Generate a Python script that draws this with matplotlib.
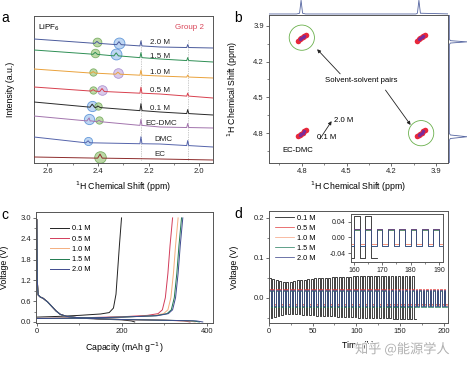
import numpy as np
import matplotlib
matplotlib.use('Agg')
import matplotlib.pyplot as plt
import matplotlib.patheffects as pe
from matplotlib.ticker import MultipleLocator

plt.rcParams['font.family'] = ['Liberation Sans', 'DejaVu Sans']
plt.rcParams['font.size'] = 5
plt.rcParams['axes.linewidth'] = 0.7
plt.rcParams['axes.edgecolor'] = '#555555'
for ax_ in ('xtick', 'ytick'):
    plt.rcParams[ax_ + '.major.size'] = 2.2
    plt.rcParams[ax_ + '.minor.size'] = 1.2
    plt.rcParams[ax_ + '.major.width'] = 0.6
    plt.rcParams[ax_ + '.minor.width'] = 0.5
    plt.rcParams[ax_ + '.major.pad'] = 1.5
    plt.rcParams[ax_ + '.color'] = '#555555'
    plt.rcParams[ax_ + '.labelcolor'] = '#222222'
    plt.rcParams[ax_ + '.labelsize'] = 5.5

W, H = 467, 370
LAB = 6.3

# ---------------- panel a data ----------------
a_names = ['2.0 M', '1.5 M', '1.0 M', '0.5 M', '0.1 M', 'EC-DMC', 'DMC', 'EC']
a_colors = ['#4b5b9c', '#2f8f55', '#eaa23c', '#d8404e', '#2a2a2a', '#a274ad', '#5564ab', '#8e2c2c']
a_base_ppm = [2.653, 2.431, 2.155, 1.945]
a_base = [[124, 120, 116, 115], [113, 109, 104, 101], [94, 90, 87, 85], [76, 72, 69, 65],
          [61, 56, 51, 48], [47, 42, 36, 35], [26, 20, 19, 16], [6, 5, 4, 3]]
a_sharp_ppm = [2.23, 2.045]
a_sharp_h = [[5, 3], [5, 3], [5, 2], [6, 3], [7, 4], [6, 4], [7, 5], [0, 0]]
a_circ_pos = [[2.404, 2.317], [2.411, 2.328], [2.419, 2.321], [2.419, 2.384],
              [2.423, 2.400], [2.435, 2.396], [2.439], [2.392]]
a_circ_kind = [['g', 'b'], ['g', 'b'], ['g', 'p'], ['g', 'p'], ['b', 'g'], ['b', 'g'], ['b'], ['g']]
a_circ_h = [[2, 3], [2, 3], [1.5, 2], [1.5, 3], [3, 1.5], [3, 1.5], [2], [4]]
a_circ_size = [[40, 62], [38, 62], [28, 48], [28, 48], [55, 28], [55, 28], [35], [70]]
a_label_ppm = [2.155, 2.155, 2.155, 2.155, 2.155, 2.15, 2.14, 2.155]
a_label_y = [120, 106, 91, 73, 55, 39, 23, 8]

# ---------------- panel b data ----------------
b_shift_a = [4.825, 4.815, 4.805, 4.795, 4.785, 4.775]   # EC-DMC, 0.1 ... 2.0 M
b_shift_b = [4.025, 4.015, 4.005, 3.995, 3.985, 3.975]
b_proj_x = [5.05, 4.835, 4.815, 4.805, 4.795, 4.775, 4.05, 4.035, 4.025, 4.015, 4.005, 3.80]
b_proj_top = [0.07, 0.07, 0.12, 1.0, 0.12, 0.07, 0.07, 0.07, 0.12, 1.0, 0.12, 0.07]
b_proj_y = [3.80, 4.01, 4.025, 4.035, 4.045, 4.06, 4.80, 4.815, 4.83, 4.845, 4.86, 5.05]
b_proj_right = [0.07, 0.07, 0.12, 1.0, 0.12, 0.07, 0.07, 0.12, 1.0, 0.12, 0.07, 0.07]

# ---------------- panel c data ----------------
c_names = ['0.1 M', '0.5 M', '1.0 M', '1.5 M', '2.0 M']
c_colors = ['#222222', '#d23c5a', '#f4ae7e', '#1f7a4f', '#3e4a8e']
c_dis_x = [[0, 1, 3, 8, 15, 25, 35, 45, 55, 70, 100, 150, 200, 222, 230],
           [0, 1, 3, 8, 15, 25, 35, 45, 55, 70, 100, 150, 200, 300, 345, 360],
           [0, 1, 3, 8, 15, 25, 35, 45, 55, 70, 100, 150, 200, 300, 357, 372],
           [0, 1, 3, 8, 15, 25, 35, 45, 55, 70, 100, 150, 200, 300, 367, 382],
           [0, 1, 3, 8, 15, 25, 35, 45, 55, 70, 100, 150, 200, 300, 375, 390]]
c_dis_y = [[2.95, 1.2, 0.78, 0.72, 0.68, 0.58, 0.45, 0.32, 0.22, 0.16, 0.11, 0.08, 0.06, 0.03, 0.0],
           [2.95, 1.2, 0.78, 0.72, 0.68, 0.58, 0.45, 0.32, 0.22, 0.16, 0.12, 0.09, 0.07, 0.05, 0.03, 0.0],
           [2.95, 1.2, 0.78, 0.72, 0.68, 0.58, 0.45, 0.32, 0.22, 0.16, 0.12, 0.09, 0.07, 0.05, 0.03, 0.0],
           [2.95, 1.2, 0.78, 0.72, 0.68, 0.58, 0.45, 0.32, 0.22, 0.16, 0.12, 0.09, 0.07, 0.05, 0.03, 0.0],
           [2.95, 1.2, 0.78, 0.72, 0.68, 0.58, 0.45, 0.32, 0.22, 0.16, 0.12, 0.09, 0.07, 0.05, 0.03, 0.0]]
c_chg_x = [[0, 50, 100, 150, 170, 180, 186, 190, 194, 199],
           [0, 100, 200, 260, 285, 295, 302, 308, 313, 319],
           [0, 100, 200, 272, 298, 308, 315, 321, 326, 332],
           [0, 100, 200, 280, 306, 316, 323, 329, 334, 340],
           [0, 100, 200, 283, 309, 319, 326, 332, 337, 343]]
c_chg_y = [[0.14, 0.16, 0.19, 0.23, 0.27, 0.40, 0.80, 1.50, 2.20, 3.00],
           [0.10, 0.12, 0.15, 0.19, 0.24, 0.35, 0.70, 1.40, 2.20, 3.00],
           [0.10, 0.11, 0.14, 0.18, 0.24, 0.35, 0.70, 1.40, 2.20, 3.00],
           [0.10, 0.11, 0.14, 0.18, 0.24, 0.35, 0.70, 1.40, 2.20, 3.00],
           [0.10, 0.11, 0.14, 0.18, 0.24, 0.35, 0.70, 1.40, 2.20, 3.00]]

# ---------------- panel d data ----------------
d_names = ['0.1 M', '0.5 M', '1.0 M', '1.5 M', '2.0 M']
d_colors = ['#222222', '#e03a3a', '#f6a07e', '#1f7a5a', '#323c86']
d_period = 4.0
d_black_hi = [0.050, 0.048, 0.045, 0.042, 0.040, 0.040, 0.041, 0.042, 0.044, 0.045,
              0.046, 0.047, 0.048, 0.049, 0.050, 0.050, 0.051, 0.051, 0.052, 0.052,
              0.052, 0.053, 0.053, 0.053, 0.054, 0.054, 0.054, 0.054, 0.055, 0.055,
              0.055, 0.055, 0.055, 0.055, 0.055, 0.055, 0.055, 0.055, 0.054, 0.054,
              0.054, 0.054]
d_black_lo = [-0.050, -0.047, -0.044, -0.042, -0.041, -0.040, -0.040, -0.040, -0.041, -0.042,
              -0.042, -0.043, -0.043, -0.044, -0.044, -0.045, -0.045, -0.046, -0.046, -0.047,
              -0.047, -0.047, -0.048, -0.048, -0.048, -0.049, -0.049, -0.049, -0.050, -0.050,
              -0.050, -0.050, -0.051, -0.051, -0.051, -0.052, -0.052, -0.052, -0.053, -0.053,
              -0.053, -0.053]
d_other_hi = [0.022, 0.020, 0.018, 0.021]
d_other_lo = [-0.016, -0.018, -0.022, -0.021]
d_other_cycles = 51


def fpos(l, t, r, b):
    return [l / W, 1 - b / H, (r - l) / W, (b - t) / H]


def spectrum(bx, by, peaks):
    xs, ys = list(bx), list(by)
    for pos, h, w in peaks:
        b = np.interp(pos, bx[::-1], by[::-1])
        xs += [pos + w, pos, pos - w]
        ys += [b, b + h, b]
    order = np.argsort(xs)[::-1]
    return np.array(xs)[order], np.array(ys)[order]


def square(hi, lo, period):
    xs, ys = [], []
    for i, (h, l) in enumerate(zip(hi, lo)):
        t0 = i * period
        xs += [t0, t0 + period / 2, t0 + period / 2, t0 + period]
        ys += [h, h, l, l]
    return xs, ys


fig = plt.figure(figsize=(W / 100, H / 100), dpi=100)

# ================= a =================
ax = fig.add_axes(fpos(34, 16, 213, 163))
circ_face = {'g': '#a6cb88', 'b': '#a9c9ef', 'p': '#cdb9e4'}
circ_edge = {'g': '#5f9e46', 'b': '#3d7fd0', 'p': '#9a7cc8'}
for ppm in a_sharp_ppm:
    ax.plot([ppm, ppm], [3, 124], ls=(0, (1, 1.5)), color='#9a9a9a', lw=0.5, zorder=1)
for i in range(len(a_names)):
    bx = np.array(a_base_ppm)
    by = np.array(a_base[i], dtype=float)
    peaks = [(p, h, 0.004) for p, h in zip(a_sharp_ppm, a_sharp_h[i]) if h > 0]
    peaks += [(p, h, 0.009) for p, h in zip(a_circ_pos[i], a_circ_h[i])]
    for p, k, s in zip(a_circ_pos[i], a_circ_kind[i], a_circ_size[i]):
        yb = np.interp(p, bx[::-1], by[::-1])
        ax.scatter([p], [yb + 1.5], s=s, facecolor=circ_face[k], edgecolor=circ_edge[k],
                   linewidth=0.6, alpha=0.75, zorder=2)
    x, y = spectrum(bx, by, peaks)
    ax.plot(x, y, color=a_colors[i], lw=0.7, zorder=3)
    ax.text(a_label_ppm[i], a_label_y[i], a_names[i], ha='center', va='center', fontsize=5.8,
            color='#222222', zorder=4)
ax.text(0.02, 0.955, 'LiPF$_6$', transform=ax.transAxes, fontsize=5.8, va='top')
ax.text(0.95, 0.945, 'Group 2', transform=ax.transAxes, fontsize=5.8, va='top', ha='right',
        color='#d9475a')
ax.set_xlim(2.653, 1.945)
ax.set_ylim(0, 147)
ax.set_xticks([2.6, 2.4, 2.2, 2.0])
ax.xaxis.set_minor_locator(MultipleLocator(0.1))
ax.set_yticks([])
ax.set_xlabel('$^1$H Chemical Shift (ppm)', fontsize=LAB, labelpad=3)
ax.set_ylabel('Intensity (a.u.)', fontsize=LAB)
ax.yaxis.set_label_coords(-0.105, 0.5)

# ================= b =================
ax = fig.add_axes(fpos(269, 15, 448, 163))
xlim_b, ylim_b = (5.02, 3.82), (5.05, 3.81)
pairs = [(b_shift_a, b_shift_b), (b_shift_b, b_shift_b), (b_shift_a, b_shift_a), (b_shift_b, b_shift_a)]
for xs, ys in pairs:
    ax.scatter(xs, ys, s=16, color='#e8283a', linewidths=0, zorder=3)
for xs, ys in pairs:
    ax.scatter(xs[1:-1], ys[1:-1], s=6, color='#7a2a9a', linewidths=0, zorder=4)
ax.scatter([4.80, 4.00], [4.00, 4.80], s=330, facecolor='none', edgecolor='#6ab04c', lw=0.6, zorder=2)
ax.text(4.40, 4.36, 'Solvent-solvent pairs', ha='center', va='center', fontsize=5.6,
        bbox=dict(fc='white', ec='none', pad=0.5), zorder=6)
ax.annotate('', xy=(4.71, 4.08), xytext=(4.53, 4.32),
            arrowprops=dict(arrowstyle='-|>', color='#222222', lw=0.6, mutation_scale=5), zorder=5)
ax.annotate('', xy=(4.06, 4.75), xytext=(4.25, 4.42),
            arrowprops=dict(arrowstyle='-|>', color='#222222', lw=0.6, mutation_scale=5), zorder=5)
ax.annotate('', xy=(4.59, 4.68), xytext=(4.69, 4.87),
            arrowprops=dict(arrowstyle='-|>', color='#222222', lw=0.6, mutation_scale=5))
ax.text(4.585, 4.69, '2.0 M', fontsize=5.6, va='center', ha='left')
ax.text(4.70, 4.84, '0.1 M', fontsize=5.6, va='center', ha='left')
ax.text(4.93, 4.945, 'EC-DMC', fontsize=5.6, va='center', ha='left')
ax.set_xlim(*xlim_b)
ax.set_ylim(*ylim_b)
ax.set_xticks([4.8, 4.5, 4.2, 3.9])
ax.set_yticks([3.9, 4.2, 4.5, 4.8])
ax.xaxis.set_minor_locator(MultipleLocator(0.15))
ax.yaxis.set_minor_locator(MultipleLocator(0.15))
ax.set_xlabel('$^1$H Chemical Shift (ppm)', fontsize=LAB, labelpad=3)
ax.set_ylabel('$^1$H Chemical Shift (ppm)', fontsize=LAB)
ax.yaxis.set_label_coords(-0.16, 0.5)

axt = fig.add_axes(fpos(269, 0, 448, 15))
axt.plot(b_proj_x, b_proj_top, color='#5565a0', lw=0.6)
axt.set_xlim(*xlim_b)
axt.set_ylim(0, 1.02)
axt.axis('off')
axr = fig.add_axes(fpos(448, 15, 467, 163))
axr.plot(b_proj_right, b_proj_y, color='#5565a0', lw=0.6)
axr.set_ylim(*ylim_b)
axr.set_xlim(0, 1.0)
axr.axis('off')

# ================= c =================
ax = fig.add_axes(fpos(36, 212, 213, 323))
for i in range(len(c_names)):
    ax.plot(c_dis_x[i], c_dis_y[i], color=c_colors[i], lw=0.7, label=c_names[i])
    ax.plot(c_chg_x[i], c_chg_y[i], color=c_colors[i], lw=0.7)
ax.set_xlim(-2, 414)
ax.set_ylim(-0.03, 3.17)
ax.set_xticks([0, 200, 400])
ax.xaxis.set_minor_locator(MultipleLocator(100))
ax.set_yticks([0.0, 0.6, 1.2, 1.8, 2.4, 3.0])
ax.yaxis.set_minor_locator(MultipleLocator(0.3))
ax.set_xlabel('Capacity (mAh g$^{-1}$)', fontsize=LAB, labelpad=4)
ax.set_ylabel('Voltage (V)', fontsize=LAB)
ax.yaxis.set_label_coords(-0.155, 0.5)
ax.legend(loc='upper left', bbox_to_anchor=(0.08, 0.88), frameon=False, fontsize=5.3,
          handlelength=2.6, handletextpad=0.4, labelspacing=0.42, borderpad=0, borderaxespad=0)

# ================= d =================
ax = fig.add_axes(fpos(269, 211, 448, 323))
axi = fig.add_axes(fpos(351, 214, 443, 262))
bxs, bys = square(d_black_hi, d_black_lo, d_period)
for a_ in (ax, axi):
    a_.plot(bxs, bys, color=d_colors[0], lw=0.6, label=d_names[0])
for j in range(4):
    xs, ys = square([d_other_hi[j]] * d_other_cycles, [d_other_lo[j]] * d_other_cycles, d_period)
    for a_ in (ax, axi):
        a_.plot(xs, ys, color=d_colors[j + 1], lw=0.5, label=d_names[j + 1])
ax.set_xlim(0, 205)
ax.set_ylim(-0.0625, 0.2175)
ax.set_xticks([0, 50, 100, 150, 200])
ax.xaxis.set_minor_locator(MultipleLocator(25))
ax.set_yticks([0.0, 0.1, 0.2])
ax.yaxis.set_minor_locator(MultipleLocator(0.05))
ax.set_xlabel('Time (h)', fontsize=LAB, labelpad=4)
ax.set_ylabel('Voltage (V)', fontsize=LAB)
ax.yaxis.set_label_coords(-0.17, 0.5)
ax.legend(loc='upper left', bbox_to_anchor=(0.035, 0.97), frameon=False, fontsize=5.3,
          handlelength=2.6, handletextpad=0.4, labelspacing=0.4, borderpad=0, borderaxespad=0)
axi.set_xlim(159, 191.4)
axi.set_ylim(-0.063, 0.06)
axi.set_xticks([160, 170, 180, 190])
axi.set_yticks([-0.04, 0.0, 0.04])
axi.set_yticklabels(['-0.04', '0.00', '0.04'])
axi.xaxis.set_minor_locator(MultipleLocator(5))
axi.tick_params(labelsize=5)

# ================= panel letters & watermark =================
for lab, x, y in [('a', 5, 18), ('b', 238, 18), ('c', 5, 215), ('d', 238, 214)]:
    fig.text(x / W, 1 - y / H, lab, fontsize=10, ha='center', va='center')
fig.text(355 / W, 1 - 349 / H, '知乎 @能源学人', fontsize=9.5, color='#b0b0b0',
         family=['Noto Sans CJK SC', 'DejaVu Sans'], va='center', ha='left',
         path_effects=[pe.withStroke(linewidth=1.5, foreground='white')])

fig.savefig('out.png', dpi=100)
